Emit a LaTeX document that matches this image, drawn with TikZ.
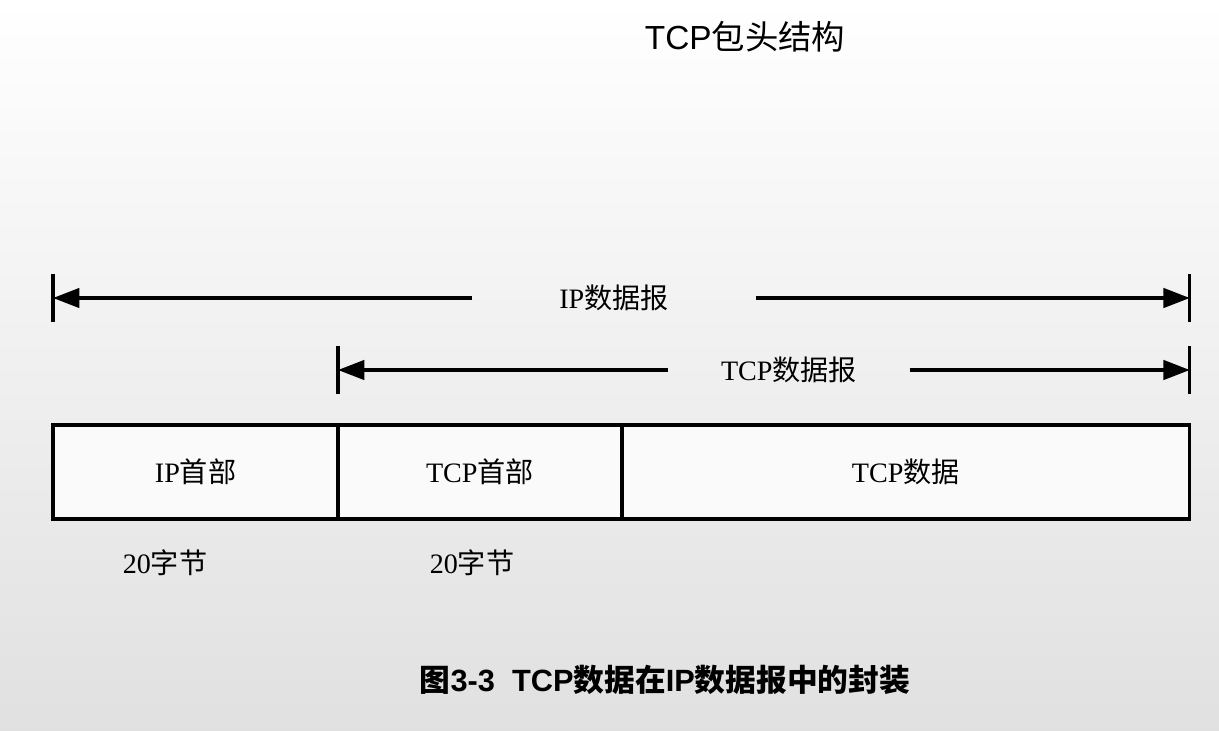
\documentclass[tikz,border=0pt]{standalone}
\usepackage{fontspec}
\setmainfont{Liberation Serif}
\setsansfont{Liberation Sans}
\newfontfamily\cjk{Noto Sans CJK SC}
\usetikzlibrary{arrows.meta,positioning}

\begin{document}
\begin{tikzpicture}[x=0.02cm,y=-0.02cm,line width=1.9pt,
		tip/.style={-{Triangle[length=15pt,width=11pt]}},
		seg/.style={draw,fill=gray!4,outer sep=0pt,minimum height=1.88cm,
			font=\fontsize{16}{19}\selectfont},
		lab/.style={font=\fontsize{16}{19}\selectfont}]
		\shade[top color=white,bottom color=gray!24] (0,0) rectangle (1219,730);
		\node (t) at (745,37) {\sffamily\fontsize{19}{23}\selectfont TCP{\cjk 包头结构}};
		\node (1) [seg,minimum width=5.7cm] at (195.5,472) {IP{\cjk 首部}};
		\node (2) [seg,minimum width=5.68cm,right=0pt of 1] {TCP{\cjk 首部}};
		\node (3) [seg,minimum width=11.36cm,right=0pt of 2] {TCP{\cjk 数据}};
		\node (n1) [lab] at (165,563) {20{\cjk 字节}};
		\node (n2) [lab] at (472,563) {20{\cjk 字节}};
		% IP datagram
		\coordinate (a1) at (1.west |- 0,298);
		\coordinate (b1) at (3.east |- 0,298);
		\node (ipd) [lab,minimum width=5.6cm] at (614,298) {IP{\cjk 数据报}};
		% TCP datagram
		\coordinate (a2) at (2.west |- 0,370);
		\coordinate (b2) at (3.east |- 0,370);
		\node (tcpd) [lab,minimum width=4.76cm] at (789,370) {TCP{\cjk 数据报}};
		\draw[tip] (ipd) -- (a1);
		\draw[tip] (ipd) -- (b1);
		\draw[tip] (tcpd) -- (a2);
		\draw[tip] (tcpd) -- (b2);
		\foreach \p in {a1,b1,a2,b2}
		\draw (\p) ++(0,-24) -- ++(0,48);
		\node (cap) at (665,680) {\sffamily\bfseries\fontsize{17.5}{21}\selectfont {\cjk 图}3-3\ \ TCP{\cjk 数据在}IP{\cjk 数据报中的封装}};
	\end{tikzpicture}
\end{document}
